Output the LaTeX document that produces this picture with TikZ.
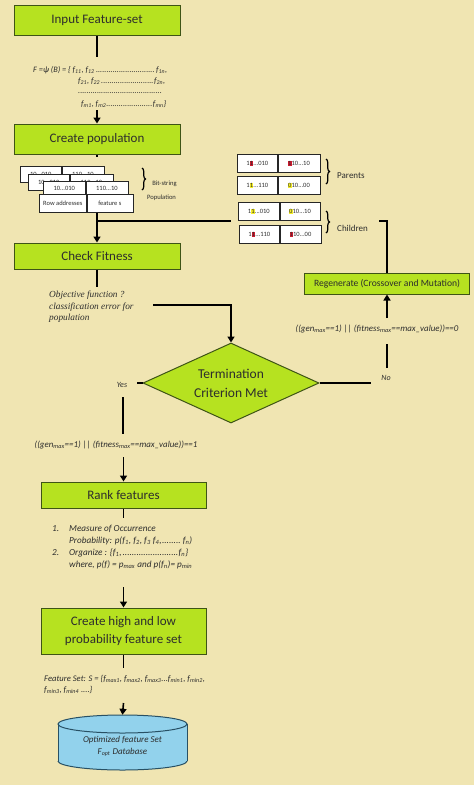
\documentclass[tikz,border=0pt]{standalone}
\usepackage{fontspec}
\setmainfont{Carlito}
\newfontfamily\serifit{Liberation Serif}
\usetikzlibrary{arrows.meta,shapes.geometric,decorations.pathreplacing}
\definecolor{bg}{RGB}{240,229,178}
\definecolor{lime}{RGB}{182,226,32}
\definecolor{limeedge}{RGB}{62,84,22}
\definecolor{cylfill}{RGB}{146,210,236}
\definecolor{cyledge}{RGB}{40,80,100}
\definecolor{hlred}{RGB}{205,25,45}
\definecolor{hlyel}{RGB}{245,238,40}
\definecolor{txt}{RGB}{45,45,45}
\newcommand\hlr[1]{{\setlength\fboxsep{0.2pt}\colorbox{hlred}{#1}}}
\newcommand\hly[1]{{\setlength\fboxsep{0.2pt}\colorbox{hlyel}{#1}}}
\newcommand\tdots{\leaders\hbox{.}\hfill}
\tikzset{
  stepbox/.style={draw=limeedge, line width=1pt, fill=lime, minimum width=166pt, minimum height=30pt, inner sep=0pt, font=\fontsize{13}{17}\selectfont, text=txt, align=center},
  flow/.style={line width=1.6pt, draw=black},
  arr/.style={flow, -{Triangle[length=6pt,width=7pt]}},
  cell/.style={draw=black!85, line width=0.6pt, fill=white, inner sep=0pt, text=txt, font=\fontsize{6.5}{7}\selectfont},
  note/.style={font=\fontsize{8.3}{9}\selectfont\itshape, text=txt, inner sep=0pt},
  cond/.style={font=\fontsize{8.9}{10}\selectfont\itshape, text=txt, inner sep=0pt},
  lab/.style={font=\fontsize{9}{10}\selectfont, text=txt, inner sep=0pt},
  obj/.style={font=\fontsize{9.3}{11.5}\selectfont\serifit\itshape, text=txt, inner sep=0pt, align=left},
  rl/.style={font=\fontsize{9.2}{10}\selectfont\itshape, text=txt, inner sep=0pt, anchor=west},
  bracestyle/.style={decorate, decoration={brace, amplitude=3.5pt}, line width=1.2pt},
}
\begin{document}
\begin{tikzpicture}[x=1pt,y=-1pt]
\useasboundingbox (0,0) rectangle (474,785);
\fill[bg] (0,0) rectangle (474,785);

% main boxes
\node[stepbox] (input) at (97,20) {Input Feature-set};
\node[stepbox] (create) at (97,139) {Create population};
\node[stepbox, minimum height=26pt] (check) at (97,256) {Check Fitness};
\node[stepbox, minimum width=165pt, minimum height=26pt] (rank) at (123.5,495) {Rank features};
\node[stepbox, minimum width=165pt, minimum height=46pt, font=\fontsize{13}{18}\selectfont] (high) at (123.5,631) {Create high and low\\probability feature set};
\node[stepbox, minimum width=165pt, minimum height=21pt, font=\fontsize{9.6}{10}\selectfont] (regen) at (387,283.5) {Regenerate (Crossover and Mutation)};
\node[diamond, draw=limeedge, line width=1pt, fill=lime, minimum width=176pt, minimum height=80pt, inner sep=0pt, aspect=2.2, align=center, text=txt, font=\fontsize{13.5}{19}\selectfont] (term) at (231,383) {Termination\\Criterion Met};

% formula under input
\node[note, anchor=west] (f1) at (33,70) {\makebox[134pt][l]{F =ψ (B) = \{ f\textsubscript{11}, f\textsubscript{12}\tdots f\textsubscript{1n},}};
\node[note, anchor=west] (f2) at (78,81) {\makebox[87pt][l]{f\textsubscript{21}, f\textsubscript{22}\tdots f\textsubscript{2n},}};
\node[note, anchor=west] (f3) at (78,93) {\makebox[85pt][l]{\tdots}};
\node[note, anchor=west] (f4) at (81,104) {\makebox[85pt][l]{f\textsubscript{m1}, f\textsubscript{m2}\tdots f\textsubscript{mn}\}}};

% population cards
\node[cell, minimum width=41pt, minimum height=16pt, anchor=north west] (a1) at (20,166) {10...010};
\node[cell, minimum width=42pt, minimum height=16pt, anchor=west] (a2) at (a1.east) {110...10};
\node[cell, minimum width=41pt, minimum height=16pt, anchor=north west] (b1) at (28,174) {10...010};
\node[cell, minimum width=43pt, minimum height=16pt, anchor=west] (b2) at (b1.east) {110...10};
\node[cell, minimum width=42pt, minimum height=15pt, anchor=north west] (c1) at (43,181) {10...010};
\node[cell, minimum width=42pt, minimum height=15pt, anchor=west] (c2) at (c1.east) {110...10};
\node[cell, minimum width=47pt, minimum height=18pt, anchor=north west] (r1) at (39,194) {Row addresses};
\node[cell, minimum width=46pt, minimum height=18pt, anchor=west] (r2) at (r1.east) {feature s};
\draw[bracestyle] (142,168) -- (142,190);
\node[lab, font=\fontsize{6.6}{7}\selectfont] (bits) at (164.5,184) {Bit-string};
\node[lab, font=\fontsize{6.6}{7}\selectfont] (popl) at (161.5,198) {Population};

% parents and children
\node[cell, minimum width=40pt, minimum height=18pt, anchor=north west] (p11) at (237,154) {1\hlr{1}...010};
\node[cell, minimum width=42pt, minimum height=18pt, anchor=west] (p12) at (p11.east) {\hlr{1}10...10};
\node[cell, minimum width=40pt, minimum height=18pt, anchor=north west] (p21) at (237,176) {1\hly{1}...110};
\node[cell, minimum width=42pt, minimum height=18pt, anchor=west] (p22) at (p21.east) {\hly{0}10...00};
\node[cell, minimum width=41pt, minimum height=18pt, anchor=north west] (k11) at (238,202) {1\hly{1}...010};
\node[cell, minimum width=40pt, minimum height=18pt, anchor=west] (k12) at (k11.east) {\hly{0}10...10};
\node[cell, minimum width=40pt, minimum height=18pt, anchor=north west] (k21) at (239,225) {1\hlr{1}...110};
\node[cell, minimum width=41pt, minimum height=18pt, anchor=west] (k22) at (k21.east) {\hlr{1}10...00};
\draw[bracestyle] (326,159) -- (326,184);
\node[lab, anchor=west] (par) at (337,176) {Parents};
\draw[bracestyle] (326,211) -- (326,233);
\node[lab, anchor=west] (chi) at (337,228) {Children};

% notes
\node[obj, anchor=north west] (objtxt) at (49,291) {Objective function ?\\classification error for\\population};
\node[note, font=\fontsize{8}{9}\selectfont\itshape] (yes) at (122,385) {Yes};
\node[note, font=\fontsize{8}{9}\selectfont\itshape] (no) at (386,378) {No};
\node[cond] (yescond) at (116,445) {((gen\textsubscript{max}==1) || (fitness\textsubscript{max}==max\_value))==1};
\node[cond] (nocond) at (377,329) {((gen\textsubscript{max}==1) || (fitness\textsubscript{max}==max\_value))==0};

\node[rl] (n1) at (52,529) {1.};
\node[rl] (m1) at (69,529) {Measure of Occurrence};
\node[rl] (m2) at (69,541) {\makebox[123pt][l]{Probability: p(f\textsubscript{1}, f\textsubscript{2}, f\textsubscript{3} f\textsubscript{4},\tdots\ f\textsubscript{n})}};
\node[rl] (n2) at (52,553) {2.};
\node[rl] (m3) at (69,553) {\makebox[119pt][l]{Organize : \{f\textsubscript{1},\tdots f\textsubscript{n}\}}};
\node[rl] (m4) at (69,565) {where, p(f) = p\textsubscript{max} and p(f\textsubscript{n})= p\textsubscript{min}};

\node[note, font=\fontsize{8.6}{11.5}\selectfont\itshape, anchor=north west, align=left] (fs) at (44,675) {Feature Set: S = \{f\textsubscript{max1}, f\textsubscript{max2}, f\textsubscript{max3}...f\textsubscript{min1}, f\textsubscript{min2},\\f\textsubscript{min3}, f\textsubscript{min4} ....\}};

% database cylinder
\fill[cylfill] (58,724) rectangle (187,761);
\fill[cylfill] (122.5,761) ellipse[x radius=64.5, y radius=9];
\draw[cyledge, line width=1pt] (58,724) -- (58,761) (187,724) -- (187,761);
\begin{scope}
\clip (50,761) rectangle (195,775);
\draw[cyledge, line width=1pt] (122.5,761) ellipse[x radius=64.5, y radius=9];
\end{scope}
\filldraw[fill=cylfill, draw=cyledge, line width=1pt] (122.5,724) ellipse[x radius=64.5, y radius=9];
\node[inner sep=0pt, minimum width=129pt, minimum height=55pt] (db) at (122.5,742.5) {};
\node[note, font=\fontsize{9}{11.5}\selectfont\itshape, align=center] (dbtxt) at (122.5,746.5) {Optimized feature Set\\F\textsubscript{opt} Database};

% coordinates
\coordinate (inStub) at (97,57);
\coordinate (fIn) at (97,110);
\coordinate (popStub) at (97,157);
\coordinate (popJoin) at (97,221);
\coordinate (childIn) at (231,221);
\coordinate (chkStub) at (97,287);
\coordinate (objOut) at (153,305);
\coordinate (yesStub) at (137,383);
\coordinate (yesTop) at (123,397);
\coordinate (yesBot) at (123,434);
\coordinate (yesOut) at (123.5,457);
\coordinate (noStub) at (371,383);
\coordinate (noBot) at (387,368);
\coordinate (noTop) at (387,344);
\coordinate (noOut) at (387,318);
\coordinate (regTop) at (379,221);
\coordinate (rankStub) at (123.5,518);
\coordinate (listOut) at (123.5,587);
\coordinate (highStub) at (123.5,668);
\coordinate (fsOut) at (123.5,703);

% connectors
\draw[flow] (input.south) -- (inStub);
\draw[arr] (fIn) -- (create.north);
\draw[flow] (create.south) -- (popStub);
\draw[arr] (create.south |- r2.south) -- (check.north);
\draw[flow] (popJoin) -- (childIn);
\draw[flow] (check.south) -- (chkStub);
\draw[arr] (objOut) -| (term.north);
\draw[flow] (term.west) -- (yesStub);
\draw[flow] (yesTop) -- (yesBot);
\draw[arr] (yesOut) -- (rank.north);
\draw[flow] (term.east) -- (noStub);
\draw[flow] (noBot) -- (noTop);
\draw[arr] (noOut) -- (regen.south);
\draw[flow] (regen.north) |- (regTop);
\draw[flow] (rank.south) -- (rankStub);
\draw[arr] (listOut) -- (high.north);
\draw[flow] (high.south) -- (highStub);
\draw[arr] (fsOut) -- (db.north);
\end{tikzpicture}
\end{document}
